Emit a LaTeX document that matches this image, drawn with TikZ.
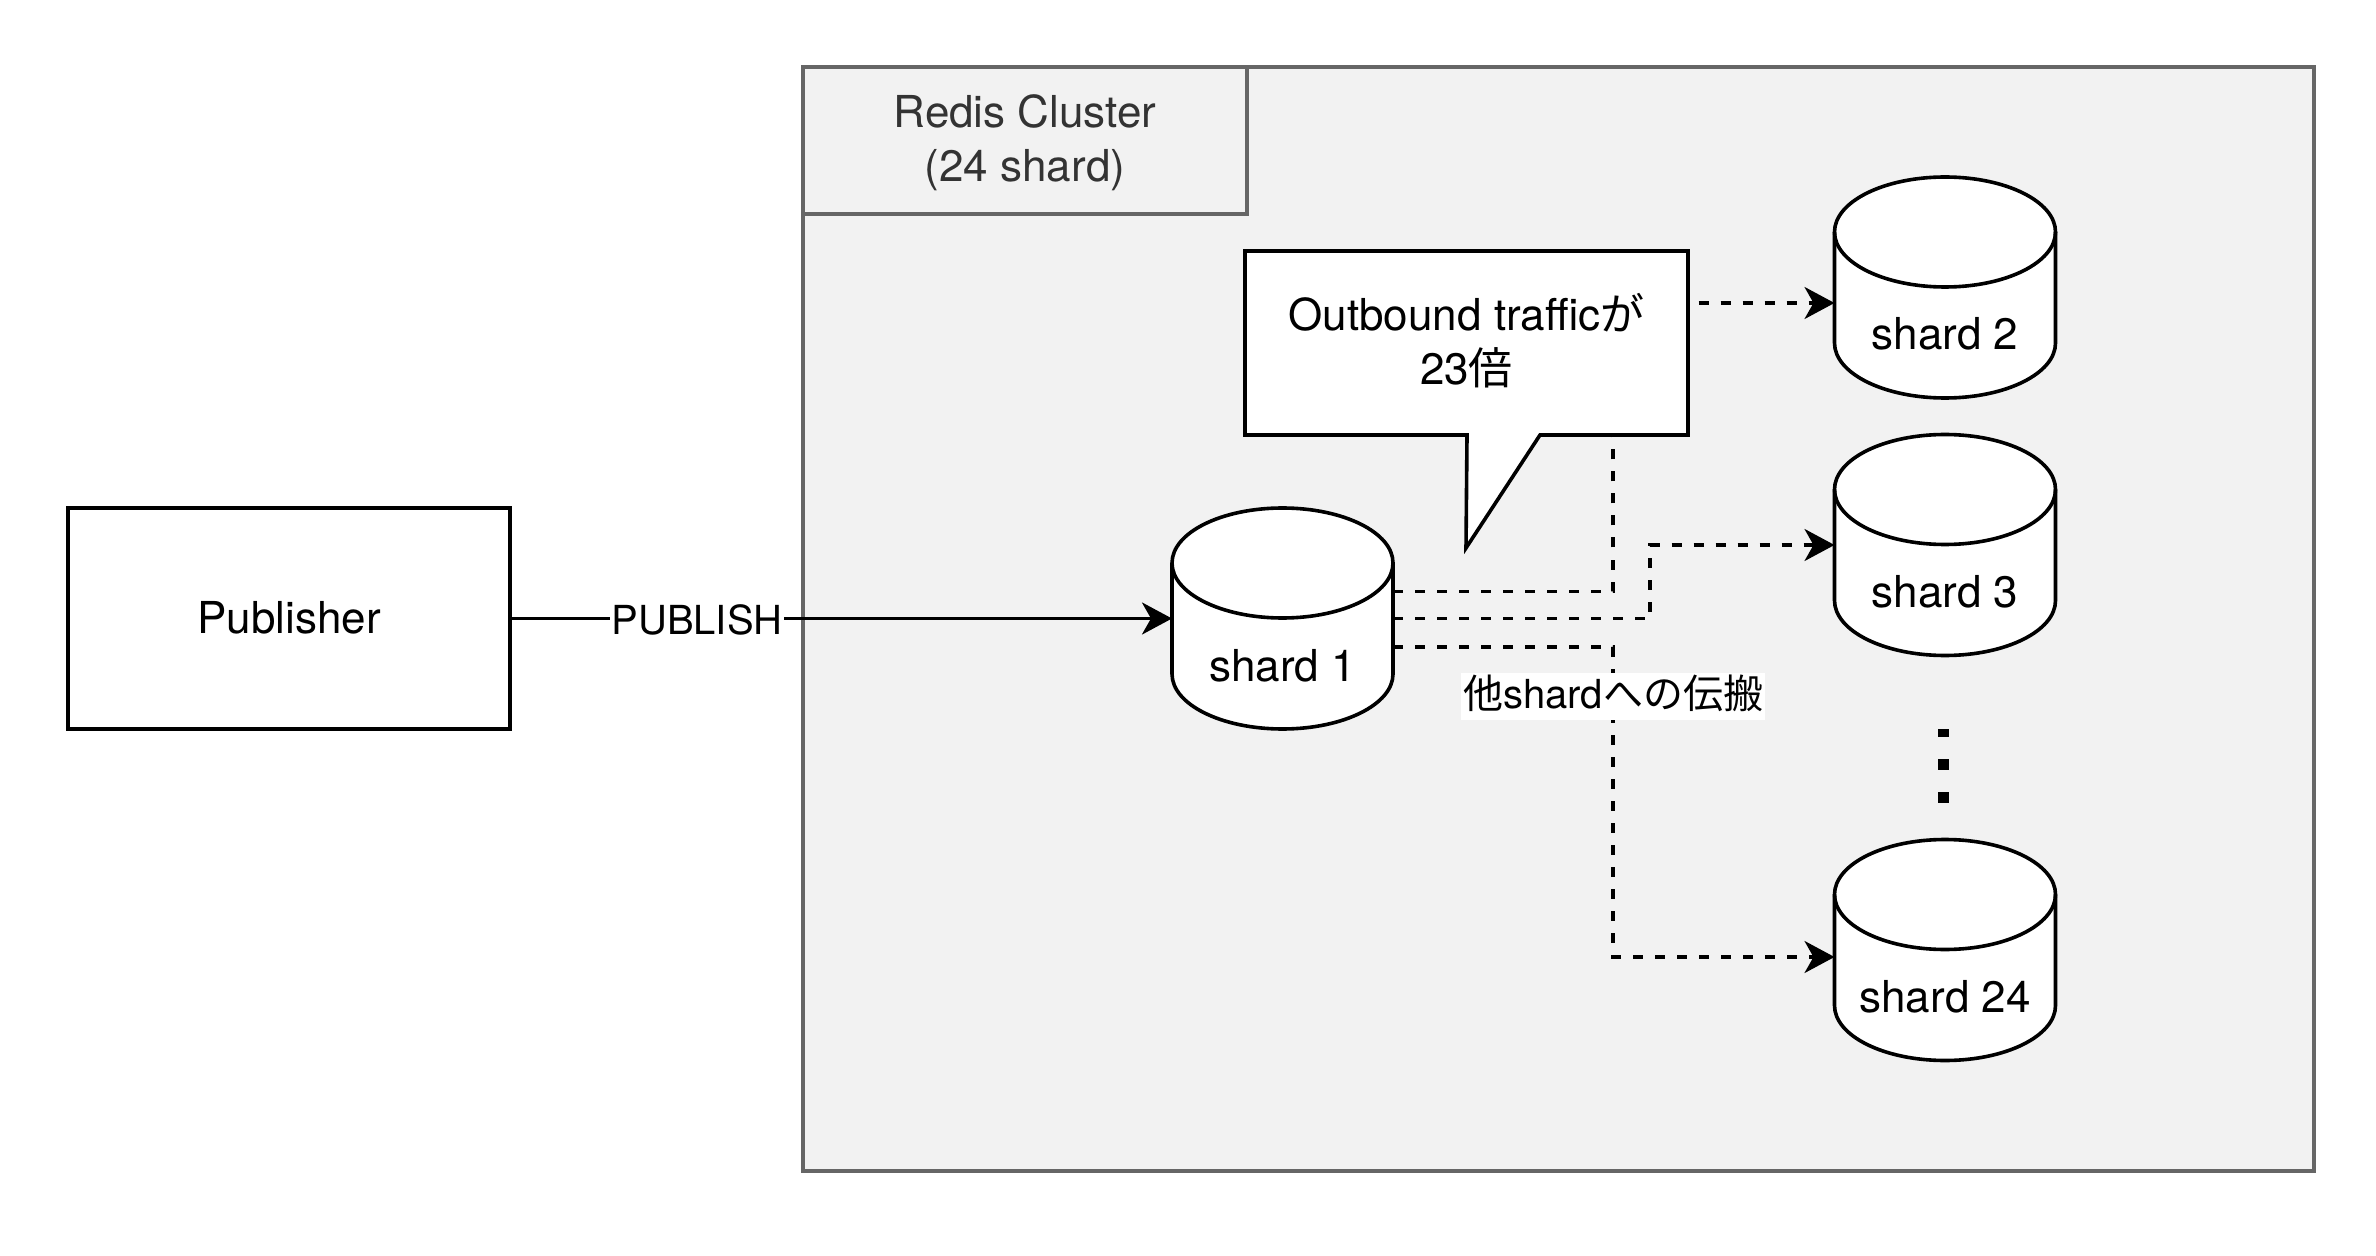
\documentclass[tikz,border=0pt]{standalone}
\usepackage{fontspec}
\setmainfont{TeX Gyre Heros}
\newfontfamily\jp{Noto Sans CJK JP}
\usetikzlibrary{arrows.meta,calc}
\pgfdeclarelayer{bgl}
\pgfdeclarelayer{edgel}
\pgfdeclarelayer{shapel}
\pgfsetlayers{bgl,edgel,shapel,main}
\definecolor{clfill}{HTML}{F2F2F2}
\definecolor{clline}{HTML}{666666}
\definecolor{cltext}{HTML}{333333}
\newcommand\drawcyl[1]{%
  \begin{pgfonlayer}{shapel}
  \draw[lw, fill=white] ([yshift=-27.5pt]#1.north west) -- ([yshift=27.5pt]#1.south west)
     arc[start angle=180, end angle=360, x radius=55.25pt, y radius=27.5pt]
     -- ([yshift=-27.5pt]#1.north east)
     arc[start angle=0, end angle=180, x radius=55.25pt, y radius=27.5pt] -- cycle;
  \draw[lw] ([yshift=-27.5pt]#1.north west)
     arc[start angle=180, end angle=360, x radius=55.25pt, y radius=27.5pt];
  \end{pgfonlayer}}
\begin{document}
\begin{tikzpicture}[x=0.5pt, y=-0.5pt,
  lw/.style={line width=1.8pt},
  bigfont/.style={font=\fontsize{22pt}{27.25pt}\selectfont},
  lblfont/.style={font=\fontsize{20pt}{24pt}\selectfont},
  pubbox/.style={draw=black, lw, fill=white, minimum width=221pt, minimum height=110.5pt,
     inner sep=0pt, outer sep=0pt, bigfont, text height=15pt, text depth=0pt},
  shardnode/.style={draw=none, minimum width=110.5pt, minimum height=110.5pt,
     inner sep=0pt, outer sep=0pt, bigfont, text height=62.5pt, text depth=0pt},
  clusterbox/.style={draw=clline, fill=clfill, lw, minimum width=755.5pt, minimum height=552pt,
     inner sep=0pt, outer sep=0pt},
  headbox/.style={draw=clline, fill=clfill, lw, minimum width=222pt, minimum height=73.5pt,
     inner sep=0pt, outer sep=0pt, text=cltext, align=center, bigfont,
     text height=41.5pt, text depth=0pt},
  calloutnode/.style={draw=none, inner sep=0pt, align=center, bigfont,
     text height=42pt, text depth=0pt},
  tip/.style={-{Stealth[length=15pt, width=16pt, inset=4.5pt]}},
  sedge/.style={lw, tip},
  dedge/.style={lw, tip, dash pattern=on 5pt off 6pt},
  elabel/.style={lblfont, fill=white, inner xsep=0.5pt, inner ysep=2pt,
     text height=16pt, text depth=0pt},
  plabel/.style={lblfont, fill=white, inner xsep=1pt, inner ysep=6pt,
     text height=11.5pt, text depth=0pt}
]
\useasboundingbox (0,0) rectangle (2376,1256);

% cluster container
\begin{pgfonlayer}{bgl}
\node[clusterbox] (cl) at (1558.5,619) {};
\end{pgfonlayer}
\node[headbox] (hdr) at (1025,140.5) {Redis Cluster\\(24 shard)};

% publisher
\node[pubbox] (pub) at (289,618.5) {Publisher};

% shards
\node[shardnode] (s1) at (1282.5,618.5) {shard 1};
\node[shardnode] (s2) at (1945,287.5) {shard 2};
\node[shardnode] (s3) at (1945,545) {shard 3};
\node[shardnode] (s24) at (1945,950) {shard 24};
\drawcyl{s1}
\drawcyl{s2}
\drawcyl{s3}
\drawcyl{s24}

% ellipsis dots
\fill (1938,729) rectangle (1949,737);
\fill (1938,759) rectangle (1949,770);
\fill (1938,792) rectangle (1949,803);

% bend coordinates
\coordinate (j1) at (1613,450);
\coordinate (j2) at (1650,580);
\coordinate (j3) at (1613,696.5);

% connectors
\begin{pgfonlayer}{edgel}
\draw[sedge] (pub.east) -- node[elabel, pos=0.2825] (publbl) {PUBLISH} (s1.west);
\draw[dedge] ([yshift=13.5pt]s1.east) -| (j1) |- ([yshift=-7.75pt]s2.west);
\draw[dedge] (s1.east) -| (j2) |- (s3.west);
\draw[dedge] ([yshift=-14.25pt]s1.east) -| (j3)
   node[plabel] (prop) {{\jp 他}shard{\jp への伝搬}}
   |- ([yshift=-3.5pt]s24.west);
\end{pgfonlayer}

% callout
\begin{pgfonlayer}{shapel}
\draw[lw, fill=white, line join=miter] (1245,251) -- (1688,251) -- (1688,435) -- (1540,435)
   -- (1466,548) -- (1467,435) -- (1245,435) -- cycle;
\end{pgfonlayer}
\node[calloutnode] (co) at (1466.5,343) {Outbound traffic{\jp が}\\23{\jp 倍}};
\end{tikzpicture}
\end{document}
